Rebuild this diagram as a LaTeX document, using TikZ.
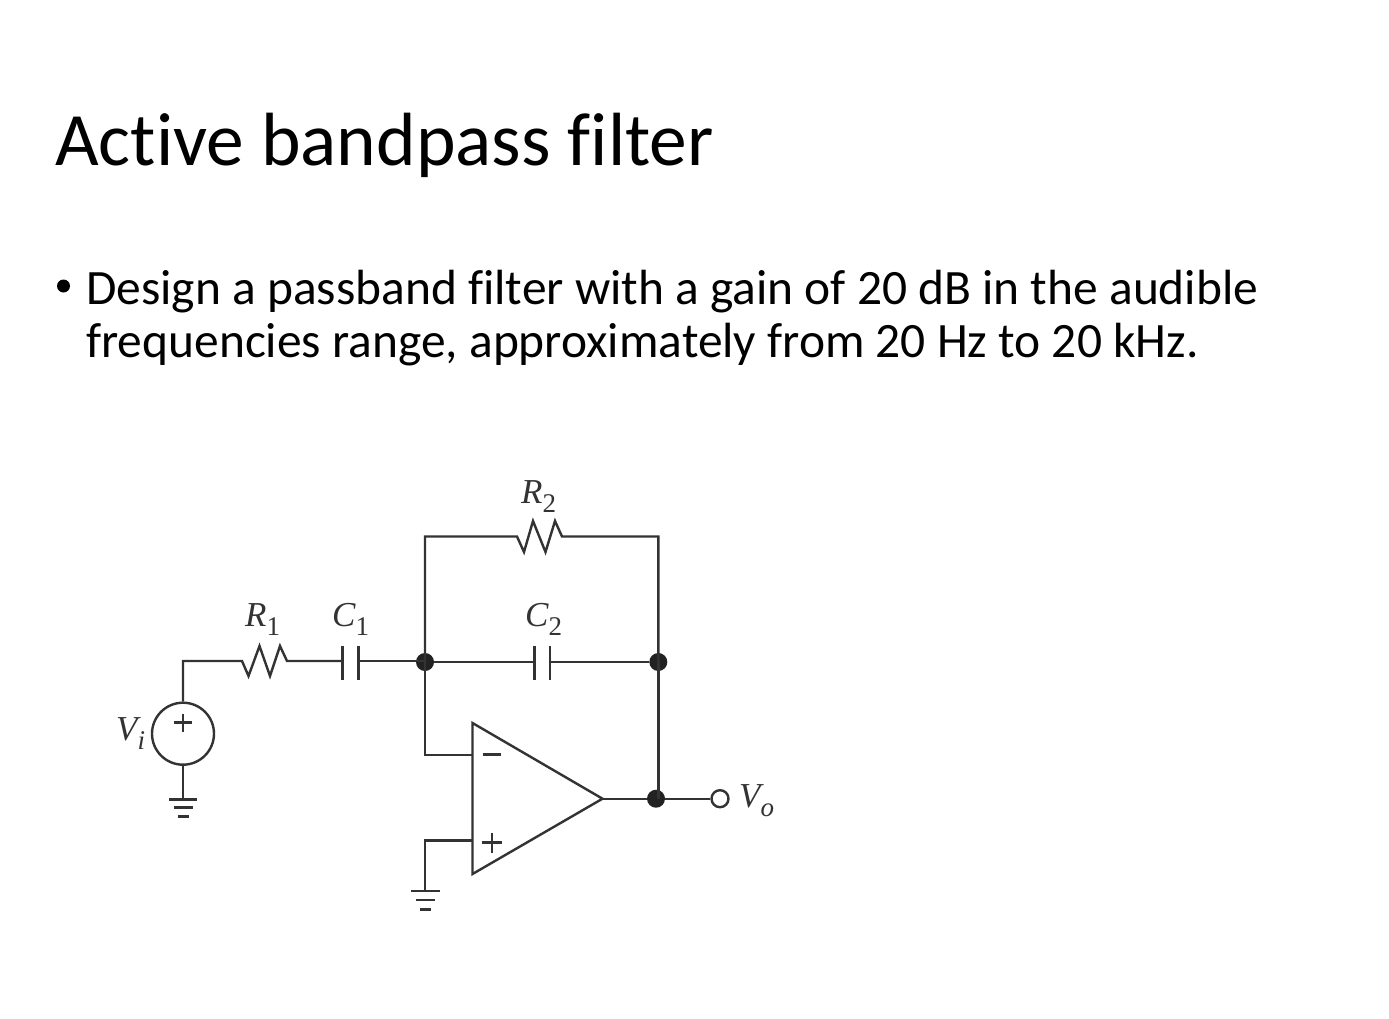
\documentclass[tikz,border=0pt]{standalone}
\usepackage{fontspec}
\setmainfont{Carlito}[Ligatures=NoCommon]
\newfontfamily\labelserif{Liberation Serif}
\newcommand{\circuitlabel}[2]{{\labelserif\itshape #1}\raisebox{-0.26em}{\fontsize{27}{27}\selectfont\labelserif #2}}
\newcommand{\circuitlabelit}[2]{{\labelserif\itshape #1}\raisebox{-0.26em}{\fontsize{27}{27}\selectfont\labelserif\itshape #2}}
\tikzset{
  wire/.style={draw=wirecol,line width=2.4pt,line join=miter,line cap=butt},
  dotnode/.style={circle,fill=dotcol,draw=none,minimum size=18pt,inner sep=0pt},
  opennode/.style={circle,fill=white,draw=wirecol,line width=2.4pt,minimum size=17pt,inner sep=0pt},
  sourcenode/.style={circle,fill=white,draw=wirecol,line width=2.4pt,minimum size=62pt,inner sep=0pt},
  clabel/.style={inner sep=0pt,text=wirecol,anchor=base west,font=\fontsize{35}{35}\selectfont},
  slidetitle/.style={inner sep=0pt,anchor=base west,font=\fontsize{75.4}{75.4}\selectfont},
  slidebody/.style={inner sep=0pt,anchor=base west,font=\fontsize{49.45}{49.45}\selectfont}
}
\definecolor{wirecol}{HTML}{333333}
\definecolor{dotcol}{HTML}{222222}
\begin{document}
\begin{tikzpicture}[x=1pt,y=-1pt]
\useasboundingbox[fill=white] (0,0) rectangle (1389,1019);
% slide text
\node[slidetitle] (title) at (55,166) {Active bandpass filter};
\node[circle,fill=black,minimum size=13pt,inner sep=0pt] (bullet) at (63.5,286) {};
\node[slidebody] (line1) at (86,304) {Design a passband filter with a gain of 20 dB in the audible};
\node[slidebody] (line2) at (86,357) {frequencies range, approximately from 20 Hz to 20 kHz.};
% named points
\coordinate (corner) at (183,661);
\coordinate (r1a) at (242,661);
\coordinate (r1b) at (287,661);
\coordinate (c1a) at (342.5,661);
\coordinate (c1b) at (358.5,661);
\coordinate (r2a) at (517,536.5);
\coordinate (r2b) at (562,536.5);
\coordinate (tl) at (425,536.5);
\coordinate (tr) at (658.3,536.5);
\coordinate (c2a) at (534.5,662);
\coordinate (c2b) at (550,662);
\coordinate (gnda) at (183,799.5);
\coordinate (gndb) at (425,891);
\coordinate (ampa) at (472.5,723);
\coordinate (ampb) at (472.5,874);
\coordinate (amptip) at (602.5,798.7);
\coordinate (minusin) at (472.5,755);
\coordinate (plusin) at (472.5,840.5);
\coordinate (minuscorner) at (425,755);
\coordinate (pluscorner) at (425,840.5);
% nodes
\node[sourcenode] (src) at (183,733.7) {};
\node[dotnode] (n1) at (425,662) {};
\node[dotnode] (n2) at (658.3,662) {};
\node[dotnode] (n3) at (656,798.7) {};
\node[opennode] (out) at (720,798.7) {};
% source plus
\draw[wire] (174,722.5) -- (192,722.5) (183,713.5) -- (183,731.5);
% input branch
\draw[wire] (src.north) -- (corner) -- (r1a)
  -- (248.5,676) -- (259.5,646) -- (270,676) -- (280,646) -- (r1b) -- (c1a);
\draw[wire] (342.5,645.5) -- (342.5,680);
\draw[wire] (358.5,645.5) -- (358.5,680);
\draw[wire] (c1b) -- (c1b -| n1);
% source ground
\draw[wire] (src.south) -- (gnda);
\draw[wire] (169,799.5) -- (197,799.5);
\draw[wire] (173.5,807.5) -- (193,807.5);
\draw[wire] (177.5,816.5) -- (188.5,816.5);
% feedback
\draw[wire] (n1.center) -- (tl) -- (r2a)
  -- (524,552) -- (533,521) -- (545.5,552) -- (555,521) -- (r2b) -- (tr) -- (n2.center);
\draw[wire] (n1) -- (c2a);
\draw[wire] (534.5,645.5) -- (534.5,680);
\draw[wire] (550,645.5) -- (550,680);
\draw[wire] (c2b) -- (n2);
\draw[wire] (n2.center) -- (n2.center |- n3);
% op amp
\draw[wire] (n1.center) -- (minuscorner) -- (minusin);
\draw[wire,miter limit=10] (ampa) -- (amptip) -- (ampb) -- cycle;
\draw[wire] (482.5,754.5) -- (501,754.5);
\draw[wire] (481.5,842.5) -- (502,842.5) (491.7,832.5) -- (491.7,853);
\draw[wire] (plusin) -- (pluscorner) -- (gndb);
\draw[wire] (411,891) -- (439.5,891);
\draw[wire] (415.5,900) -- (435,900);
\draw[wire] (420,909.5) -- (431,909.5);
\draw[wire] (amptip) -- (n3);
\draw[wire] (n3) -- (out);
% labels
\node[clabel] (lr2) at (521,503) {\circuitlabel{R}{2}};
\node[clabel] (lc2) at (525,626) {\circuitlabel{C}{2}};
\node[clabel] (lr1) at (245,626) {\circuitlabel{R}{1}};
\node[clabel] (lc1) at (332,626) {\circuitlabel{C}{1}};
\node[clabel] (lvi) at (116,740) {\circuitlabelit{V}{i}};
\node[clabel] (lvo) at (739,807) {\circuitlabelit{V}{o}};
\end{tikzpicture}
\end{document}
